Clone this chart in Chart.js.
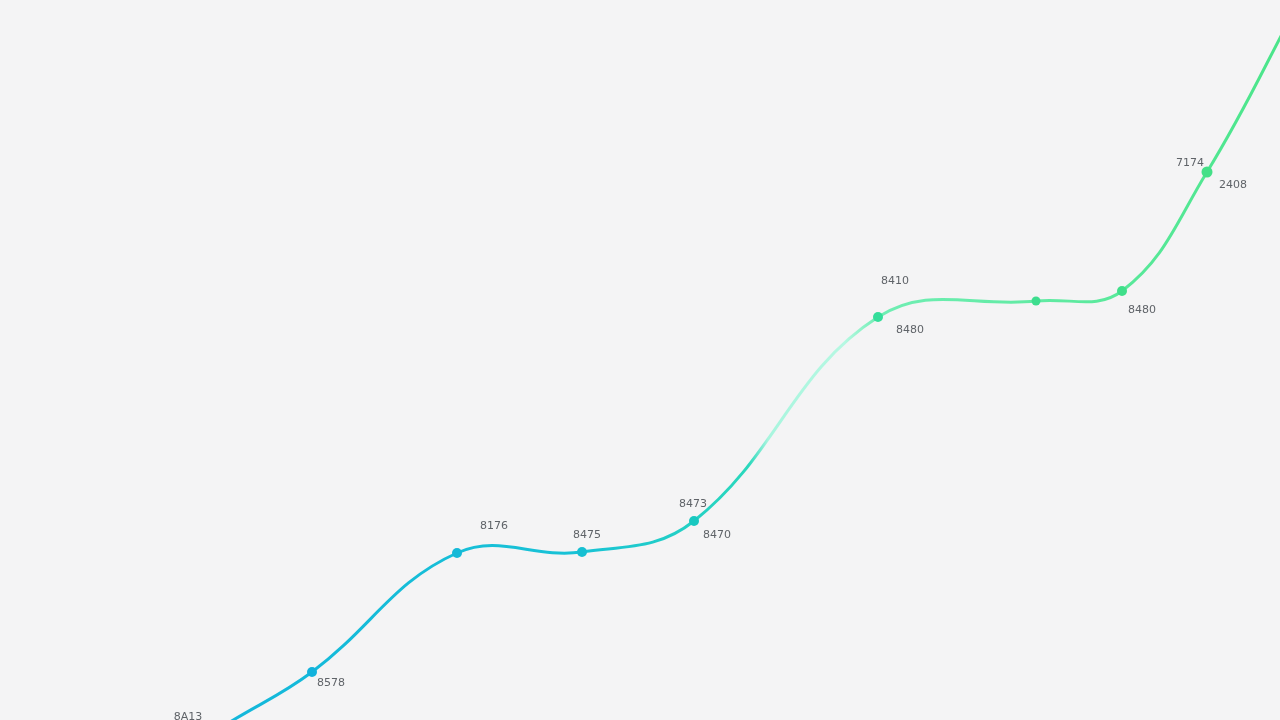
<!DOCTYPE html>
<html>
<head>
<meta charset="utf-8">
<script src="https://cdn.jsdelivr.net/npm/chart.js@4/dist/chart.umd.min.js"></script>
<style>
  html, body { margin: 0; padding: 0; background: #f4f4f5; }
  #wrap { width: 1280px; height: 720px; }
</style>
</head>
<body>
<div id="wrap"><canvas id="growth-chart"></canvas></div>
<script>
// data
const xValues = [23.0, 31.2, 45.7, 58.2, 69.4, 87.8, 103.6, 112.2, 120.7, 130.0];
const yValues = [-0.2, 4.8, 16.7, 16.8, 19.9, 40.3, 41.9, 42.9, 54.8, 72.0];
// labels above / below each point ('' = none)
const labelsAbove = ['8A13', '', '8176', '8475', '8473', '8410', '', '', '7174', ''];
const labelsBelow = ['', '8578', '', '', '8470', '8480', '', '8480', '2408', ''];

const pointColors = ['#12b2dc', '#12b2dc', '#14b9d8', '#16bfd2', '#18c8c0', '#34dd9a', '#3ddd8e', '#40df8a', '#44e087', '#48e285'];

// label offsets (px from point)
const aboveOffsets = [[-42, -5], null, [37, -27], [5, -17], [-1, -17], [17, -36], null, null, [-17, -9], null];
const belowOffsets = [null, [19, 11], null, null, [23, 14], [32, 13], null, [20, 19], [26, 13], null];

function lineGradient(context) {
  const chart = context.chart;
  const { ctx, chartArea } = chart;
  if (!chartArea) return '#1cc0d4';
  const g = ctx.createLinearGradient(chartArea.left, 0, chartArea.right, 0);
  g.addColorStop(0, '#10b0de');
  g.addColorStop(0.45, '#18c2d6');
  g.addColorStop(0.585, '#2ad8bc');
  g.addColorStop(0.6, '#a8f5de');
  g.addColorStop(0.66, '#b6f8e2');
  g.addColorStop(0.685, '#70eeb4');
  g.addColorStop(1, '#4ae58a');
  return g;
}

const pointLabels = {
  id: 'pointLabels',
  afterDatasetsDraw(chart) {
    const ctx = chart.ctx;
    const meta = chart.getDatasetMeta(0);
    ctx.save();
    ctx.font = '11px "DejaVu Sans", sans-serif';
    ctx.fillStyle = '#5f6368';
    ctx.textAlign = 'center';
    ctx.textBaseline = 'middle';
    meta.data.forEach((pt, i) => {
      if (labelsAbove[i] && aboveOffsets[i]) {
        ctx.fillText(labelsAbove[i], pt.x + aboveOffsets[i][0], pt.y + aboveOffsets[i][1]);
      }
      if (labelsBelow[i] && belowOffsets[i]) {
        ctx.fillText(labelsBelow[i], pt.x + belowOffsets[i][0], pt.y + belowOffsets[i][1]);
      }
    });
    ctx.restore();
  }
};

const points = xValues.map((x, i) => ({ x: x, y: yValues[i] }));

const chart = new Chart(document.getElementById('growth-chart'), {
  type: 'line',
  data: {
    datasets: [{
      data: points,
      borderColor: lineGradient,
      borderWidth: 3,
      tension: 0.4,
      pointRadius: [0, 5, 5, 5, 5, 5, 4.5, 5, 5.5, 0],
      pointBackgroundColor: pointColors,
      pointBorderWidth: 0,
      fill: false,
    }]
  },
  options: {
    responsive: true,
    maintainAspectRatio: false,
    animation: false,
    layout: { padding: 0 },
    clip: false,
    scales: {
      x: { type: 'linear', min: 0, max: 128, display: false },
      y: { min: 0, max: 72, display: false },
    },
    plugins: {
      legend: { display: false },
      tooltip: { enabled: false },
    },
  },
  plugins: [pointLabels]
});
</script>
</body>
</html>
